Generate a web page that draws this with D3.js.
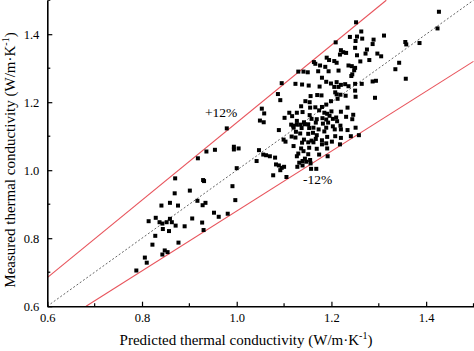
<!DOCTYPE html>
<html>
<head>
<meta charset="utf-8">
<script src="https://cdn.jsdelivr.net/npm/d3@7"></script>
<style>
  body { margin: 0; background: #fff; }
  svg { display: block; font-family: "Liberation Serif", "Times New Roman", serif; }
</style>
</head>
<body>
<svg id="chart"></svg>
<script>
// tick values
const xTicks = [0.6, 0.8, 1.0, 1.2, 1.4]
const yTicks = [0.6, 0.8, 1.0, 1.2, 1.4]
const minorTicks = [0.7, 0.9, 1.1, 1.3, 1.5]

// bound lines and their labels
const upperFactor = 1.14
const lowerFactor = 0.88
const boundLabels = ['+12%', '-12%']

// predicted (x) / measured (y) thermal conductivity, W/m·K
const predicted = [
  0.788, 0.806, 0.810, 0.822, 0.828, 0.843, 0.848, 0.854, 0.877, 0.870,
  0.869, 0.901, 0.859, 0.841, 0.876, 0.814, 0.829, 0.837, 0.843, 0.852,
  0.859, 0.863, 0.871, 0.890, 0.906, 0.844, 0.857, 0.929, 0.931, 0.917,
  0.934, 0.928, 0.991, 1.000, 0.997, 0.952, 0.962, 0.981, 0.927, 0.930,
  0.979, 0.936, 0.954, 0.918, 0.994, 0.994, 1.004,
  1.095, 1.124, 1.138, 1.152, 1.175, 1.189, 1.199, 1.211, 1.220, 1.229,
  1.236, 1.250, 1.206, 1.215, 1.087, 1.092, 1.156, 1.170, 1.179, 1.145,
  1.154, 1.208, 1.211, 1.219, 1.230, 1.250, 1.251, 1.213, 1.199, 1.189,
  1.180, 1.166, 1.155, 1.136, 1.127, 1.139, 1.174, 1.185, 1.191, 1.200,
  1.220, 1.234, 1.246, 1.053, 1.058, 1.111, 1.101, 1.117, 1.154, 1.158,
  1.169, 1.181, 1.189, 1.196, 1.203, 1.210, 1.231, 1.244, 1.049, 1.057,
  1.127, 1.142, 1.167, 1.182, 1.193, 1.212, 1.219, 1.115, 1.119, 1.127,
  1.135, 1.144, 1.151, 1.120, 1.137, 1.153, 1.162, 1.173, 1.189, 1.203,
  1.089, 1.125, 1.134, 1.151, 1.161, 1.169, 1.185, 1.207, 1.220, 1.234,
  1.251, 1.116, 1.103, 1.099, 1.124, 1.142, 1.158, 1.167, 1.180, 1.191,
  1.208, 1.220, 1.241, 1.258, 1.138, 1.151, 1.162, 1.180, 1.189, 1.201,
  1.218, 1.120, 1.136, 1.153, 1.169, 1.191, 1.130, 1.141, 1.151, 1.174,
  1.047, 1.056, 1.062, 1.070, 1.081, 1.042, 1.127, 1.144, 1.139, 1.155,
  1.192, 1.083, 1.089, 1.095, 1.092, 1.100, 1.128, 1.132, 1.139, 1.147,
  1.156, 1.077, 1.105, 1.157, 1.168,
  1.163, 1.166, 1.130, 1.141, 1.150, 1.190, 1.195, 1.206, 1.176, 1.187,
  1.172, 1.194, 1.180, 1.427, 1.424, 1.252, 1.263, 1.239, 1.254, 1.265,
  1.311, 1.209, 1.251, 1.289, 1.287, 1.356, 1.358, 1.386, 1.220, 1.225,
  1.231, 1.218, 1.250, 1.275, 1.272, 1.297, 1.305, 1.254, 1.211, 1.261,
  1.280, 1.343, 1.335, 1.236, 1.243, 1.250, 1.248, 1.215, 1.244, 1.242,
  1.357, 1.264, 1.287, 1.294, 1.292
]
const measured = [
  0.705, 0.743, 0.728, 0.781, 0.807, 0.752, 0.764, 0.759, 0.787, 0.976,
  0.932, 0.940, 0.904, 0.896, 0.896, 0.850, 0.860, 0.847, 0.843, 0.847,
  0.857, 0.847, 0.837, 0.835, 0.858, 0.827, 0.821, 0.971, 0.968, 0.910,
  0.904, 0.897, 0.953, 1.006, 0.912, 0.875, 0.863, 0.872, 0.846, 0.824,
  1.123, 1.055, 1.060, 1.035, 1.069, 1.061, 1.064,
  1.256, 1.254, 1.252, 1.249, 1.246, 1.260, 1.255, 1.259, 1.251, 1.253,
  1.247, 1.254, 1.245, 1.245, 1.224, 1.206, 1.218, 1.221, 1.220, 1.203,
  1.200, 1.229, 1.223, 1.222, 1.219, 1.234, 1.216, 1.210, 1.203, 1.193,
  1.186, 1.185, 1.184, 1.188, 1.169, 1.171, 1.176, 1.169, 1.166, 1.173,
  1.172, 1.184, 1.163, 1.181, 1.167, 1.169, 1.154, 1.159, 1.162, 1.151,
  1.150, 1.153, 1.149, 1.160, 1.151, 1.155, 1.157, 1.150, 1.146, 1.141,
  1.145, 1.141, 1.140, 1.137, 1.140, 1.144, 1.131, 1.134, 1.131, 1.134,
  1.134, 1.135, 1.135, 1.125, 1.124, 1.124, 1.125, 1.120, 1.125, 1.129,
  1.118, 1.113, 1.108, 1.107, 1.110, 1.103, 1.114, 1.120, 1.120, 1.118,
  1.125, 1.099, 1.084, 1.090, 1.096, 1.090, 1.087, 1.092, 1.088, 1.098,
  1.100, 1.095, 1.100, 1.103, 1.081, 1.082, 1.082, 1.076, 1.079, 1.084,
  1.076, 1.071, 1.064, 1.066, 1.063, 1.064, 1.049, 1.056, 1.047, 1.046,
  1.059, 1.046, 1.044, 1.041, 1.037, 1.027, 1.041, 1.034, 1.027, 1.030,
  1.041, 1.017, 1.014, 1.007, 1.000, 1.010, 1.010, 1.022, 1.014, 1.025,
  1.020, 0.985, 0.980, 1.004, 1.004,
  1.318, 1.313, 1.290, 1.290, 1.288, 1.331, 1.324, 1.321, 1.308, 1.304,
  1.291, 1.291, 1.272, 1.466, 1.417, 1.435, 1.408, 1.392, 1.393, 1.387,
  1.396, 1.376, 1.380, 1.384, 1.371, 1.377, 1.370, 1.374, 1.353, 1.347,
  1.345, 1.340, 1.360, 1.355, 1.343, 1.343, 1.335, 1.338, 1.316, 1.320,
  1.324, 1.316, 1.297, 1.308, 1.306, 1.301, 1.294, 1.293, 1.282, 1.277,
  1.269, 1.254, 1.261, 1.263, 1.213
]

const width = 474, height = 351
const svg = d3.select('#chart').attr('width', width).attr('height', height)

const x = d3.scaleLinear().domain([0.6, 1.5]).range([47.3, 473.5])
const y = d3.scaleLinear().domain([0.6, 1.5]).range([306.2, 0.2])

const plot = svg.append('g')

// reference lines
const lineGen = d3.line().x(d => x(d[0])).y(d => y(d[1]))
plot.append('path')
  .attr('d', lineGen([[0.6, 0.6], [1.5, 1.5]]))
  .attr('fill', 'none')
  .attr('stroke', '#555')
  .attr('stroke-width', 0.9)
  .attr('stroke-dasharray', '2,2')

const upperEnd = 1.5 / upperFactor
plot.append('path')
  .attr('d', lineGen([[0.6, 0.6 * upperFactor], [upperEnd, 1.5]]))
  .attr('fill', 'none').attr('stroke', '#e8545c').attr('stroke-width', 1.1)

const lowerStart = 0.6 / lowerFactor
plot.append('path')
  .attr('d', lineGen([[lowerStart, 0.6], [1.5, 1.5 * lowerFactor]]))
  .attr('fill', 'none').attr('stroke', '#e8545c').attr('stroke-width', 1.1)

// scatter
const pts = predicted.map((p, i) => ({p: p, m: measured[i]}))
plot.selectAll('.pt').data(pts).enter().append('rect')
  .attr('class', 'pt')
  .attr('x', d => x(d.p) - 2)
  .attr('y', d => y(d.m) - 2)
  .attr('width', 4)
  .attr('height', 4)
  .attr('fill', '#000')

// bound labels
plot.append('text').attr('x', x(0.933)).attr('y', y(1.156))
  .attr('font-size', 13.5).text(boundLabels[0])
plot.append('text').attr('x', x(1.14)).attr('y', y(0.959))
  .attr('font-size', 13.5).text(boundLabels[1])

// axes
const xAxis = d3.axisBottom(x).tickValues(xTicks).tickFormat(d3.format('.1f'))
  .tickSizeInner(-4.5).tickSizeOuter(0).tickPadding(7)
const yAxis = d3.axisLeft(y).tickValues(yTicks).tickFormat(d3.format('.1f'))
  .tickSizeInner(-5).tickSizeOuter(0).tickPadding(8)

const xAxisG = svg.append('g').attr('transform', `translate(0,${y(0.6)})`).call(xAxis)
const yAxisG = svg.append('g').attr('transform', `translate(${x(0.6)},0)`).call(yAxis)

// minor ticks
xAxisG.selectAll('.minor').data(minorTicks).enter().append('line')
  .attr('x1', d => x(d)).attr('x2', d => x(d))
  .attr('y1', 0).attr('y2', -3)
  .attr('stroke', '#000').attr('stroke-width', 1.2)
yAxisG.selectAll('.minor').data(minorTicks).enter().append('line')
  .attr('y1', d => y(d)).attr('y2', d => y(d))
  .attr('x1', 0).attr('x2', 3)
  .attr('stroke', '#000').attr('stroke-width', 1.2)

svg.selectAll('.domain').attr('stroke-width', 1.6)
svg.selectAll('.tick line').attr('stroke-width', 1.2)
svg.selectAll('.tick text')
  .attr('font-family', '"Liberation Serif", serif')
  .attr('font-size', 12.5)
  .attr('fill', '#000')

// axis titles
const xt = svg.append('text')
  .attr('x', 246).attr('y', 345)
  .attr('text-anchor', 'middle').attr('font-size', 15)
xt.append('tspan').text('Predicted thermal conductivity (W/m·K')
xt.append('tspan').attr('dy', -6).attr('font-size', 10).text('-1')
xt.append('tspan').attr('dy', 6).text(')')

const yt = svg.append('text')
  .attr('transform', 'translate(15,160) rotate(-90)')
  .attr('text-anchor', 'middle').attr('font-size', 15)
yt.append('tspan').text('Measured thermal conductivity (W/m·K')
yt.append('tspan').attr('dy', -6).attr('font-size', 10).text('-1')
yt.append('tspan').attr('dy', 6).text(')')
</script>
</body>
</html>
